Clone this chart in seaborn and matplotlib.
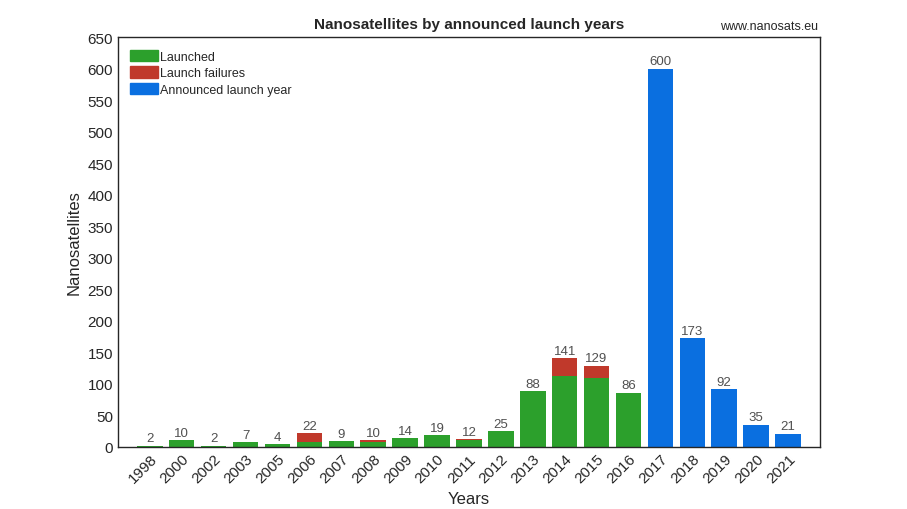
import numpy as np
import seaborn as sns
import matplotlib.pyplot as plt
import pandas as pd
from matplotlib.patches import Patch

years = ['1998', '2000', '2002', '2003', '2005', '2006', '2007', '2008', '2009', '2010',
         '2011', '2012', '2013', '2014', '2015', '2016', '2017', '2018', '2019', '2020', '2021']
totals = [2, 10, 2, 7, 4, 22, 9, 10, 14, 19, 12, 25, 88, 141, 129, 86, 600, 173, 92, 35, 21]
launched = [2, 10, 2, 7, 4, 7, 9, 8, 14, 19, 10, 25, 88, 112, 109, 86, 0, 0, 0, 0, 0]
kind = ['past'] * 16 + ['future'] * 5

green = '#2ca02c'
red = '#c0392b'
blue = '#0a6fe0'


def main():
    sns.set_style('white')
    plt.rcParams['font.family'] = ['Liberation Sans', 'DejaVu Sans']

    df = pd.DataFrame({'year': years, 'total': totals, 'launched': launched, 'kind': kind})

    fig, ax = plt.subplots(figsize=(9.07, 5.10), dpi=100)
    fig.subplots_adjust(left=0.13, right=0.904, top=0.925, bottom=0.122)

    sns.barplot(data=df, x='year', y='total', hue='kind', palette={'past': red, 'future': blue},
                dodge=False, width=0.8, saturation=1, legend=False, linewidth=0, ax=ax)
    sns.barplot(data=df, x='year', y='launched', color=green, width=0.8, saturation=1,
                linewidth=0, ax=ax)

    for i, v in enumerate(totals):
        ax.text(i, v + 2, str(v), ha='center', va='bottom', fontsize=9.5, color='#505050')

    ax.set_xlim(-1, 21)
    ax.set_ylim(0, 650)
    ax.set_yticks(np.arange(0, 651, 50))
    ax.tick_params(axis='y', labelsize=11, colors='#262626', length=0)
    ax.tick_params(axis='x', labelsize=11, colors='#262626', length=0, labelrotation=45)
    for lab in ax.get_xticklabels():
        lab.set_ha('right')
        lab.set_rotation_mode('anchor')
    ax.set_xlabel('Years', fontsize=12, color='#262626')
    ax.set_ylabel('Nanosatellites', fontsize=12, color='#262626')
    ax.set_title('Nanosatellites by announced launch years', fontsize=11, fontweight='bold', pad=7)
    fig.text(0.902, 0.935, 'www.nanosats.eu', ha='right', va='bottom', fontsize=9, color='#262626')

    for _, s in ax.spines.items():
        s.set_visible(True)
        s.set_color('#262626')
        s.set_linewidth(1)

    handles = [Patch(color=green, label='Launched'),
               Patch(color=red, label='Launch failures'),
               Patch(color=blue, label='Announced launch year')]
    ax.legend(handles=handles, loc='upper left', frameon=False, fontsize=9,
              handlelength=2.2, handleheight=1.0, handletextpad=0.2, labelspacing=0.3,
              borderaxespad=0.6)

    fig.savefig('out.png', dpi=100)


if __name__ == '__main__':
    main()
